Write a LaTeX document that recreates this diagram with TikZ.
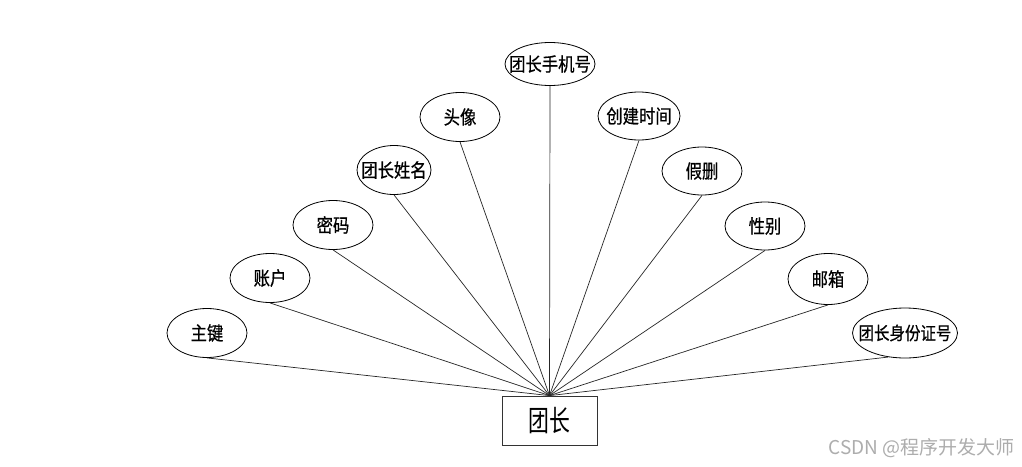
\documentclass[tikz,border=0pt]{standalone}
\usepackage{fontspec}
\setmainfont{Noto Sans CJK SC}
\newfontfamily\attrfont[FakeStretch=0.86,FakeBold=0.6]{Noto Sans CJK SC}
\newfontfamily\entfont[FakeStretch=0.72]{Noto Sans CJK SC}
\usetikzlibrary{shapes.geometric}
\tikzset{
  attr/.style={ellipse, draw=black, line width=0.8pt, inner sep=0pt, minimum width=80pt, minimum height=49pt},
  atxt/.style={font=\attrfont\fontsize{19pt}{21pt}\selectfont, inner sep=0pt},
  ent/.style={rectangle, draw=black!80, line width=0.8pt, inner sep=0pt, minimum width=95pt, minimum height=49pt, font=\entfont\fontsize{29pt}{32pt}\selectfont},
  link/.style={draw=black!85, line width=0.7pt},
}
\begin{document}
\begin{tikzpicture}[x=1pt,y=-1pt, every label/.style={atxt}]
\useasboundingbox[fill=white] (0,0) rectangle (1022,466);
\node[ent, label={[font=\entfont\fontsize{29pt}{32pt}\selectfont, inner sep=0pt]center:团长}] (t) at (549.5,420.5) {};
\node[attr, label=center:主键] (a1) at (207,333) {};
\node[attr, label=center:账户] (a2) at (270,278) {};
\node[attr, label=center:密码] (a3) at (333,225) {};
\node[attr, minimum width=74pt, label=center:团长姓名] (a4) at (394,170) {};
\node[attr, label=center:头像] (a5) at (460,117) {};
\node[attr, minimum width=90pt, minimum height=43pt, label=center:团长手机号] (a6) at (550,64) {};
\node[attr, minimum width=82pt, minimum height=48pt, label=center:创建时间] (a7) at (639,116) {};
\node[attr, minimum height=48pt, label=center:假删] (a8) at (702,171) {};
\node[attr, minimum height=48pt, label=center:性别] (a9) at (765,226) {};
\node[attr, minimum height=51pt, label=center:邮箱] (a10) at (828,279) {};
\node[attr, minimum width=105pt, minimum height=50pt, label={[font=\attrfont\fontsize{18pt}{21pt}\selectfont]center:团长身份证号}] (a11) at (905,333) {};
\foreach \n in {a1,a2,a3,a4,a5,a6,a7,a8,a9,a10}
  \draw[link] (\n.south) -- (t.north);
\draw[link] (a11.-125) -- (t.north);
\node[text=black!32, font=\fontsize{19pt}{22pt}\selectfont, anchor=east, inner sep=0pt] (wm) at (1015,448) {CSDN @程序开发大师};
\end{tikzpicture}
\end{document}
